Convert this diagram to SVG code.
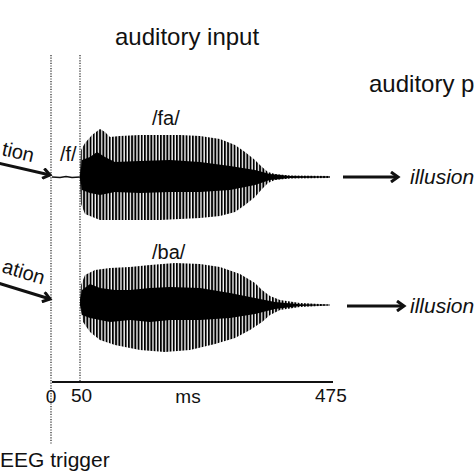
<svg xmlns="http://www.w3.org/2000/svg" width="474" height="474" viewBox="0 0 474 474">
<style>
text{font-family:"Liberation Sans",Arial,sans-serif;fill:#111}
.lbl{font-size:24px}
.ph{font-size:20px}
.it{font-size:21px;font-style:italic}
.tick{font-size:19px}
.dot{stroke:#222;stroke-width:1.2;stroke-dasharray:1.2 1.4;fill:none}
.arr{stroke:#111;stroke-width:3;fill:none}
</style>
<defs>
<pattern id="stripes" width="3.2" height="10" patternUnits="userSpaceOnUse">
<rect x="0" y="0" width="1.9" height="10" fill="#000"/>
</pattern>
<marker id="head" markerWidth="12" markerHeight="12" refX="9" refY="6" orient="auto" markerUnits="userSpaceOnUse">
<path d="M2,1 L9,6 L2,11" fill="none" stroke="#111" stroke-width="3"/>
</marker>
</defs>
<rect width="474" height="474" fill="#fff"/>

<!-- dotted time markers -->
<line class="dot" x1="51" y1="55" x2="51" y2="445"/>
<line class="dot" x1="80" y1="55" x2="80" y2="381"/>

<text class="lbl" x="115" y="45">auditory input</text>
<text class="lbl" x="369" y="92">auditory p</text>

<!-- top stimulus /fa/ -->
<g id="wave-fa">
<path d="M52,177 L60,177.5 L66,176.5 L72,177.5 L80,177" stroke="#111" stroke-width="1.6" fill="none"/>
<path fill="url(#stripes)" d="M80,177 L81,150 L85,143 L92,135 L100,129 L105,132 L110,137 L120,136 L140,135 L160,135 L180,135 L200,136 L220,139 L235,145 L245,152 L255,160 L262,167 L268,172 L275,174 L290,175.5 L330,176 L330,178 L290,178.5 L275,180 L268,183 L262,189 L255,197 L245,205 L235,212 L220,216 L200,218 L160,220 L120,220 L100,220 L85,214 L81,204 Z"/>
<path fill="#000" d="M80,177 L82,160 L90,157 L97,152 L105,157 L115,162 L140,161 L170,160 L200,162 L230,166 L255,170 L270,174 L290,176 L330,176.6 L330,177.4 L290,178 L270,180 L255,185 L230,190 L200,192 L170,192 L140,193 L115,192 L100,195 L90,193 L82,190 Z"/>
<text class="ph" x="152" y="125">/fa/</text>
<text class="ph" x="60" y="161">/f/</text>
</g>

<!-- bottom stimulus /ba/ -->
<g id="wave-ba">
<path fill="url(#stripes)" d="M80,305 L81,285 L85,275 L95,270 L110,268 L130,267 L150,265 L175,263 L200,264 L220,267 L240,274 L255,283 L262,290 L270,296 L280,300 L300,303 L330,304.5 L330,305.5 L300,307 L280,310 L270,315 L262,322 L250,330 L235,338 L215,344 L190,350 L165,352 L140,350 L115,345 L100,340 L90,332 L83,322 Z"/>
<path fill="#000" d="M80,300 L82,290 L90,284 L100,288 L115,290 L130,290 L150,288 L170,287 L200,288 L230,293 L255,298 L275,302 L300,304.3 L330,304.8 L330,305.2 L300,306 L275,309 L255,314 L230,318 L200,320 L170,320 L150,322 L130,320 L110,322 L90,318 L82,315 Z"/>
<text class="ph" x="152" y="259">/ba/</text>
</g>

<!-- connectors -->
<g id="connectors">
<line class="arr" x1="-2" y1="163" x2="50" y2="175" marker-end="url(#head)"/>
<line class="arr" x1="-2" y1="283" x2="50" y2="299" marker-end="url(#head)"/>
<line class="arr" x1="343" y1="177" x2="398" y2="177" marker-end="url(#head)"/>
<line class="arr" x1="347" y1="306" x2="404" y2="306" marker-end="url(#head)"/>
</g>

<text class="ph" transform="translate(1,155) rotate(13)">tion</text>
<text class="ph" transform="translate(1,272) rotate(17)">ation</text>

<g id="out-top"><text class="it" x="410" y="184">illusion</text></g>
<g id="out-bottom"><text class="it" x="410" y="313">illusion</text></g>

<!-- time axis -->
<g id="axis">
<line x1="52" y1="382" x2="333" y2="382" stroke="#111" stroke-width="2.2"/>
<text class="tick" x="51" y="403" text-anchor="middle">0</text>
<text class="tick" x="71" y="402">50</text>
<text class="tick" x="188" y="403" text-anchor="middle">ms</text>
<text class="tick" x="315" y="402">475</text>
<text class="tick" x="0" y="467" style="font-size:21px">EEG trigger</text>
</g>
</svg>
